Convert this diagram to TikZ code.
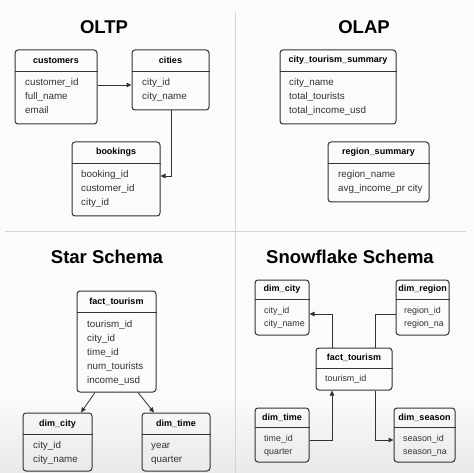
\documentclass[tikz,border=0pt]{standalone}
\usepackage{fontspec}
\setmainfont{Liberation Sans}
\usetikzlibrary{arrows.meta,fit}
\definecolor{ink}{HTML}{333333}
\definecolor{rule}{HTML}{D4D4D8}
\definecolor{paper}{HTML}{FBFAFC}
\definecolor{haze}{HTML}{E9E9EA}

\begin{document}
\begin{tikzpicture}[x=1pt, y=-1pt,
    tbl/.style={draw=ink, line width=1pt, rounded corners=3pt, inner sep=0pt},
    hdr/.style={font=\fontsize{9}{11}\selectfont\bfseries},
    rows/.style={anchor=north west, inner sep=0pt, align=left, text=ink,
                 font=\fontsize{9.8}{14}\selectfont},
    small rows/.style={rows, font=\fontsize{8.9}{13}\selectfont},
    title/.style={font=\fontsize{18.5}{20}\selectfont\bfseries},
    link/.style={draw=ink, line width=0.8pt, -{Triangle[length=5pt,width=4.5pt]}}]

  % background and quadrants
  \fill[paper] (0,0) rectangle (474,473);
  \shade[top color=paper, bottom color=haze] (0,395) rectangle (474,473);
  \useasboundingbox (0,0) rectangle (474,473);
  \draw[rule, line width=1pt] (5,232) -- (466,232);
  \draw[rule, line width=1pt] (235.5,12) -- (235.5,473);

  % OLTP
  \node[title] (oltp) at (104,27) {OLTP};
  \node[tbl, fit={(15,50) (97,124)}] (customers) {};
  \node[hdr] (customers-h) at (56,60.5) {customers};
  \draw[ink] (customers.west |- 0,71) -- (customers.east |- 0,71);
  \node[rows] (customers-r) at (25,76) {\strut customer\_id\\full\_name\\email};

  \node[tbl, fit={(132,50) (209,110)}] (cities) {};
  \node[hdr] (cities-h) at (170.5,60.5) {cities};
  \draw[ink] (cities.west |- 0,71) -- (cities.east |- 0,71);
  \node[rows] (cities-r) at (142,76) {\strut city\_id\\city\_name};

  \node[tbl, fit={(72,142) (160,216)}] (bookings) {};
  \node[hdr] (bookings-h) at (116,152.5) {bookings};
  \draw[ink] (bookings.west |- 0,163) -- (bookings.east |- 0,163);
  \node[rows] (bookings-r) at (81,168) {\strut booking\_id\\customer\_id\\city\_id};

  \draw[link] (customers.east |- 0,85) -- (cities.west |- 0,85);
  \draw[link] (cities.south -| 171,0) |- (bookings.east |- 0,176);

  % OLAP
  \node[title] (olap) at (364,27) {OLAP};
  \node[tbl, fit={(280,50) (396,124)}] (citysum) {};
  \node[hdr] (citysum-h) at (338,60.5) {city\_tourism\_summary};
  \draw[ink] (citysum.west |- 0,71) -- (citysum.east |- 0,71);
  \node[rows] (citysum-r) at (289,76) {\strut city\_name\\total\_tourists\\total\_income\_usd};

  \node[tbl, fit={(328,142) (429,202)}] (regionsum) {};
  \node[hdr] (regionsum-h) at (378.5,152.5) {region\_summary};
  \draw[ink] (regionsum.west |- 0,163) -- (regionsum.east |- 0,163);
  \node[rows] (regionsum-r) at (338,168) {\strut region\_name\\avg\_income\_pr city};

  % Star Schema
  \node[title] (star) at (107,257) {Star Schema};
  \node[tbl, fit={(77,291) (156,392)}] (fact) {};
  \node[hdr] (fact-h) at (116.5,302) {fact\_tourism};
  \draw[ink] (fact.west |- 0,312) -- (fact.east |- 0,312);
  \node[rows] (fact-r) at (87,317) {\strut tourism\_id\\city\_id\\time\_id\\num\_tourists\\income\_usd};

  \node[tbl, fit={(23,413) (92,471)}] (city) {};
  \node[hdr] (city-h) at (57.5,424) {dim\_city};
  \draw[ink] (city.west |- 0,434) -- (city.east |- 0,434);
  \node[rows] (city-r) at (33,438.5) {\strut city\_id\\city\_name};

  \node[tbl, fit={(142,413) (210,471)}] (time) {};
  \node[hdr] (time-h) at (176,424) {dim\_time};
  \draw[ink] (time.west |- 0,434) -- (time.east |- 0,434);
  \node[rows] (time-r) at (151,438.5) {\strut year\\quarter};

  \draw[link] (fact.south -| 95,0) -- (city.north -| 81,0);
  \draw[link] (fact.south -| 138,0) -- (time.north -| 154,0);

  % Snowflake Schema
  \node[title] (snow) at (350,257) {Snowflake Schema};
  \node[tbl, fit={(255,280) (309,335)}] (sf-city) {};
  \node[hdr] (sf-city-h) at (282,289.5) {dim\_city};
  \draw[ink] (sf-city.west |- 0,299) -- (sf-city.east |- 0,299);
  \node[small rows] (sf-city-r) at (264,304) {\strut city\_id\\city\_name};

  \node[tbl, fit={(396,280) (449,335)}] (sf-region) {};
  \node[hdr] (sf-region-h) at (422.5,289.5) {dim\_region};
  \draw[ink] (sf-region.west |- 0,299) -- (sf-region.east |- 0,299);
  \node[small rows] (sf-region-r) at (404,304) {\strut region\_id\\region\_na};

  \node[tbl, fit={(316,348) (392,390)}] (sf-fact) {};
  \node[hdr] (sf-fact-h) at (354,358) {fact\_tourism};
  \draw[ink] (sf-fact.west |- 0,368) -- (sf-fact.east |- 0,368);
  \node[small rows] (sf-fact-r) at (325,372) {\strut tourism\_id};

  \node[tbl, fit={(255,408) (309,462)}] (sf-time) {};
  \node[hdr] (sf-time-h) at (282,417.5) {dim\_time};
  \draw[ink] (sf-time.west |- 0,427) -- (sf-time.east |- 0,427);
  \node[small rows] (sf-time-r) at (264,432) {\strut time\_id\\quarter};

  \node[tbl, fit={(394,408) (455,462)}] (sf-season) {};
  \node[hdr] (sf-season-h) at (424.5,417.5) {dim\_season};
  \draw[ink] (sf-season.west |- 0,427) -- (sf-season.east |- 0,427);
  \node[small rows] (sf-season-r) at (403,432) {\strut season\_id\\season\_na};

  \draw[link] (sf-fact.north -| 332,0) |- (sf-city.east |- 0,314);
  \draw[ink, line width=0.8pt] (sf-fact.north -| 375,0) |- (sf-region.west |- 0,314);
  \draw[link] (sf-time.east |- 0,440) -| (sf-fact.south -| 332,0);
  \draw[link] (sf-fact.south -| 375,0) |- (sf-season.west |- 0,440);

\end{tikzpicture}
\end{document}
